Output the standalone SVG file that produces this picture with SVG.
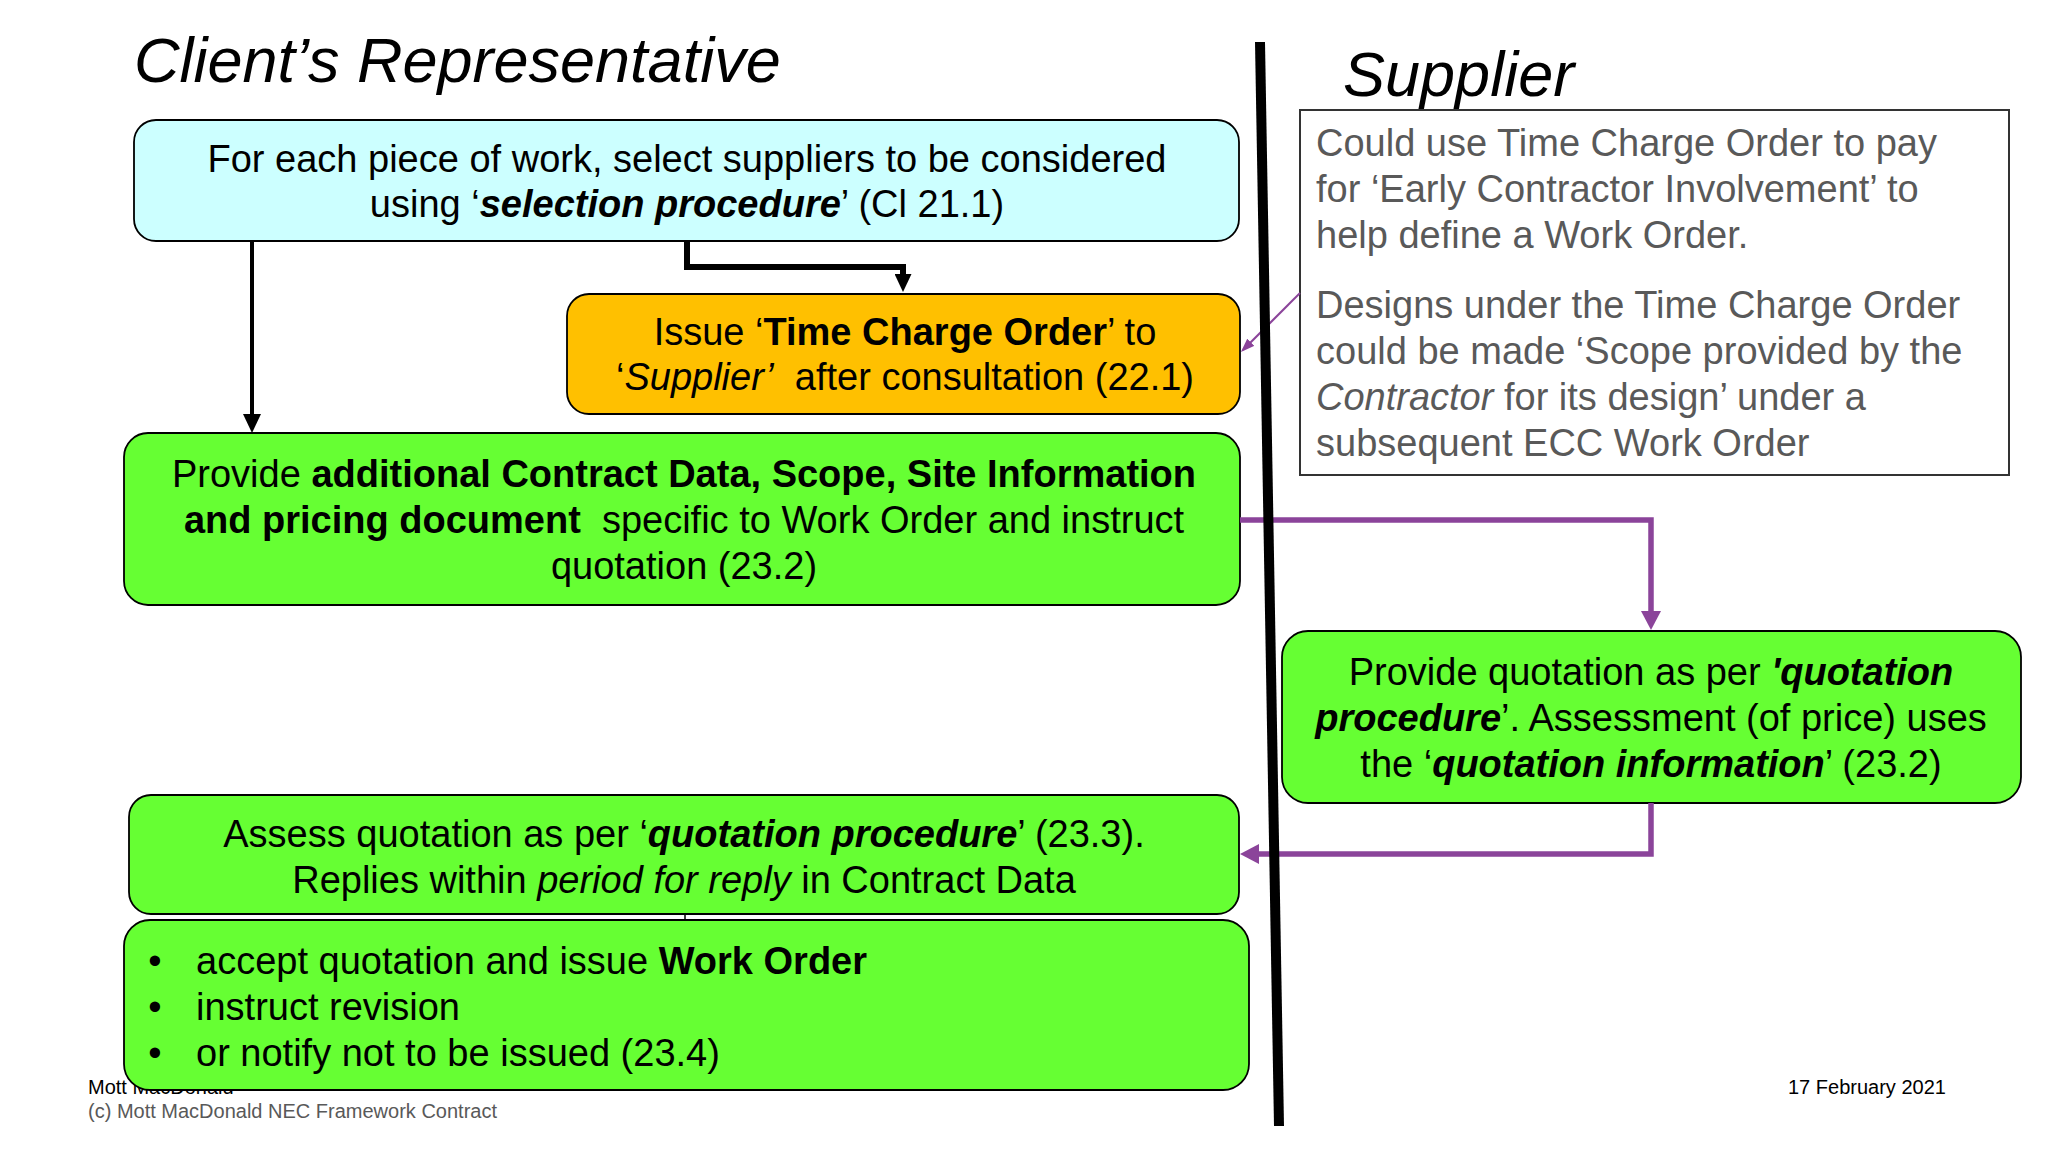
<svg xmlns="http://www.w3.org/2000/svg" width="2048" height="1152" viewBox="0 0 2048 1152">
<defs>
<style>
text{font-family:"Liberation Sans",Arial,"DejaVu Sans",sans-serif;font-size:38px;fill:#000}
.t{font-size:63px;font-style:italic}
.c{text-anchor:middle}
.b{font-weight:bold}
.i{font-style:italic}
.bi{font-weight:bold;font-style:italic}
.g{fill:#595959}
.f{font-size:20px}
.box{stroke:#000;stroke-width:1.8}
.cyan{fill:#CCFFFF}
.orange{fill:#FFC000}
.green{fill:#66FF33}
.blk{fill:none;stroke:#000}
.pur{fill:none;stroke:#8B449A}
</style>
<marker id="ab1" markerUnits="userSpaceOnUse" markerWidth="19" markerHeight="18" refX="14" refY="9" orient="auto"><path d="M0,0 L19,9 L0,18 z" fill="#000"/></marker>
<marker id="ab2" markerUnits="userSpaceOnUse" markerWidth="18" markerHeight="17" refX="11" refY="8.5" orient="auto"><path d="M0,0 L18,8.5 L0,17 z" fill="#000"/></marker>
<marker id="ap" markerUnits="userSpaceOnUse" markerWidth="19" markerHeight="20" refX="13" refY="10" orient="auto"><path d="M0,0 L19,10 L0,20 z" fill="#8B449A"/></marker>
<marker id="ap2" markerUnits="userSpaceOnUse" markerWidth="14" markerHeight="10" refX="11" refY="5" orient="auto"><path d="M0,0 L14,5 L0,10 z" fill="#8B449A"/></marker>
</defs>
<rect width="2048" height="1152" fill="#fff"/>

<text class="t" x="134" y="82">Client’s Representative</text>
<text class="t" x="1343" y="96">Supplier</text>

<g id="footer">
<text class="f" x="88" y="1094">Mott MacDonald</text>
<text class="f g" x="88" y="1118">(c) Mott MacDonald NEC Framework Contract</text>
<text class="f" x="1788" y="1094">17 February 2021</text>
</g>

<g id="note">
<rect x="1300" y="110" width="709" height="365" fill="#fff" stroke="#333" stroke-width="2"/>
<text class="g" x="1316" y="156">Could use Time Charge Order to pay</text>
<text class="g" x="1316" y="202">for ‘Early Contractor Involvement’ to</text>
<text class="g" x="1316" y="248">help define a Work Order.</text>
<text class="g" x="1316" y="318">Designs under the Time Charge Order</text>
<text class="g" x="1316" y="364">could be made ‘Scope provided by the</text>
<text class="g" x="1316" y="410"><tspan class="i">Contractor</tspan> for its design’ under a</text>
<text class="g" x="1316" y="456">subsequent ECC Work Order</text>
</g>

<g id="select">
<rect class="box cyan" x="134" y="120" width="1105" height="121" rx="22"/>
<text class="c" x="687" y="172">For each piece of work, select suppliers to be considered</text>
<text class="c" x="687" y="217">using ‘<tspan class="bi">selection procedure</tspan>’ (Cl 21.1)</text>
</g>

<g id="tco">
<rect class="box orange" x="567" y="294" width="673" height="120" rx="22"/>
<text class="c" x="905" y="345">Issue ‘<tspan class="b">Time Charge Order</tspan>’ to</text>
<text class="c" x="905" y="390" xml:space="preserve">‘<tspan class="i">Supplier’</tspan>  after consultation (22.1)</text>
</g>

<g id="provide-data">
<rect class="box green" x="124" y="433" width="1116" height="172" rx="24"/>
<text class="c" x="684" y="487">Provide <tspan class="b">additional Contract Data, Scope, Site Information</tspan></text>
<text class="c" x="684" y="533" xml:space="preserve"><tspan class="b">and pricing document</tspan>  specific to Work Order and instruct</text>
<text class="c" x="684" y="579">quotation (23.2)</text>
</g>

<g id="quotation">
<rect class="box green" x="1282" y="631" width="739" height="172" rx="26"/>
<text class="c" x="1651" y="685">Provide quotation as per <tspan class="bi">'quotation</tspan></text>
<text class="c" x="1651" y="731"><tspan class="bi">procedure</tspan>’. Assessment (of price) uses</text>
<text class="c" x="1651" y="777">the ‘<tspan class="bi">quotation information</tspan>’ (23.2)</text>
</g>

<g id="assess">
<rect class="box green" x="129" y="795" width="1110" height="119" rx="22"/>
<text class="c" x="684" y="847">Assess quotation as per ‘<tspan class="bi">quotation procedure</tspan>’ (23.3).</text>
<text class="c" x="684" y="893">Replies within <tspan class="i">period for reply</tspan> in Contract Data</text>
</g>

<g id="outcome">
<rect class="box green" x="124" y="920" width="1125" height="170" rx="26"/>
<text class="c" x="155" y="974">•</text>
<text x="196" y="974">accept quotation and issue <tspan class="b">Work Order</tspan></text>
<text class="c" x="155" y="1020">•</text>
<text x="196" y="1020">instruct revision</text>
<text class="c" x="155" y="1066">•</text>
<text x="196" y="1066">or notify not to be issued (23.4)</text>
</g>

<g id="connectors">
<path class="blk" stroke-width="4" d="M252,241 V428" marker-end="url(#ab1)"/>
<path class="blk" stroke-width="6" d="M687,241 V267 H903 V285" marker-end="url(#ab2)"/>
<path class="pur" stroke-width="5.5" d="M1240,520 H1651 V624" marker-end="url(#ap)"/>
<path class="pur" stroke-width="5.5" d="M1651,803 V854 H1246" marker-end="url(#ap)"/>
<path class="pur" stroke-width="2" d="M1300,293 L1243,350" marker-end="url(#ap2)"/>
<path class="blk" stroke-width="1.5" d="M685,914 V920"/>
</g>

<g id="divider">
<path d="M1260,42 L1279,1126" stroke="#000" stroke-width="10" fill="none"/>
</g>
</svg>
